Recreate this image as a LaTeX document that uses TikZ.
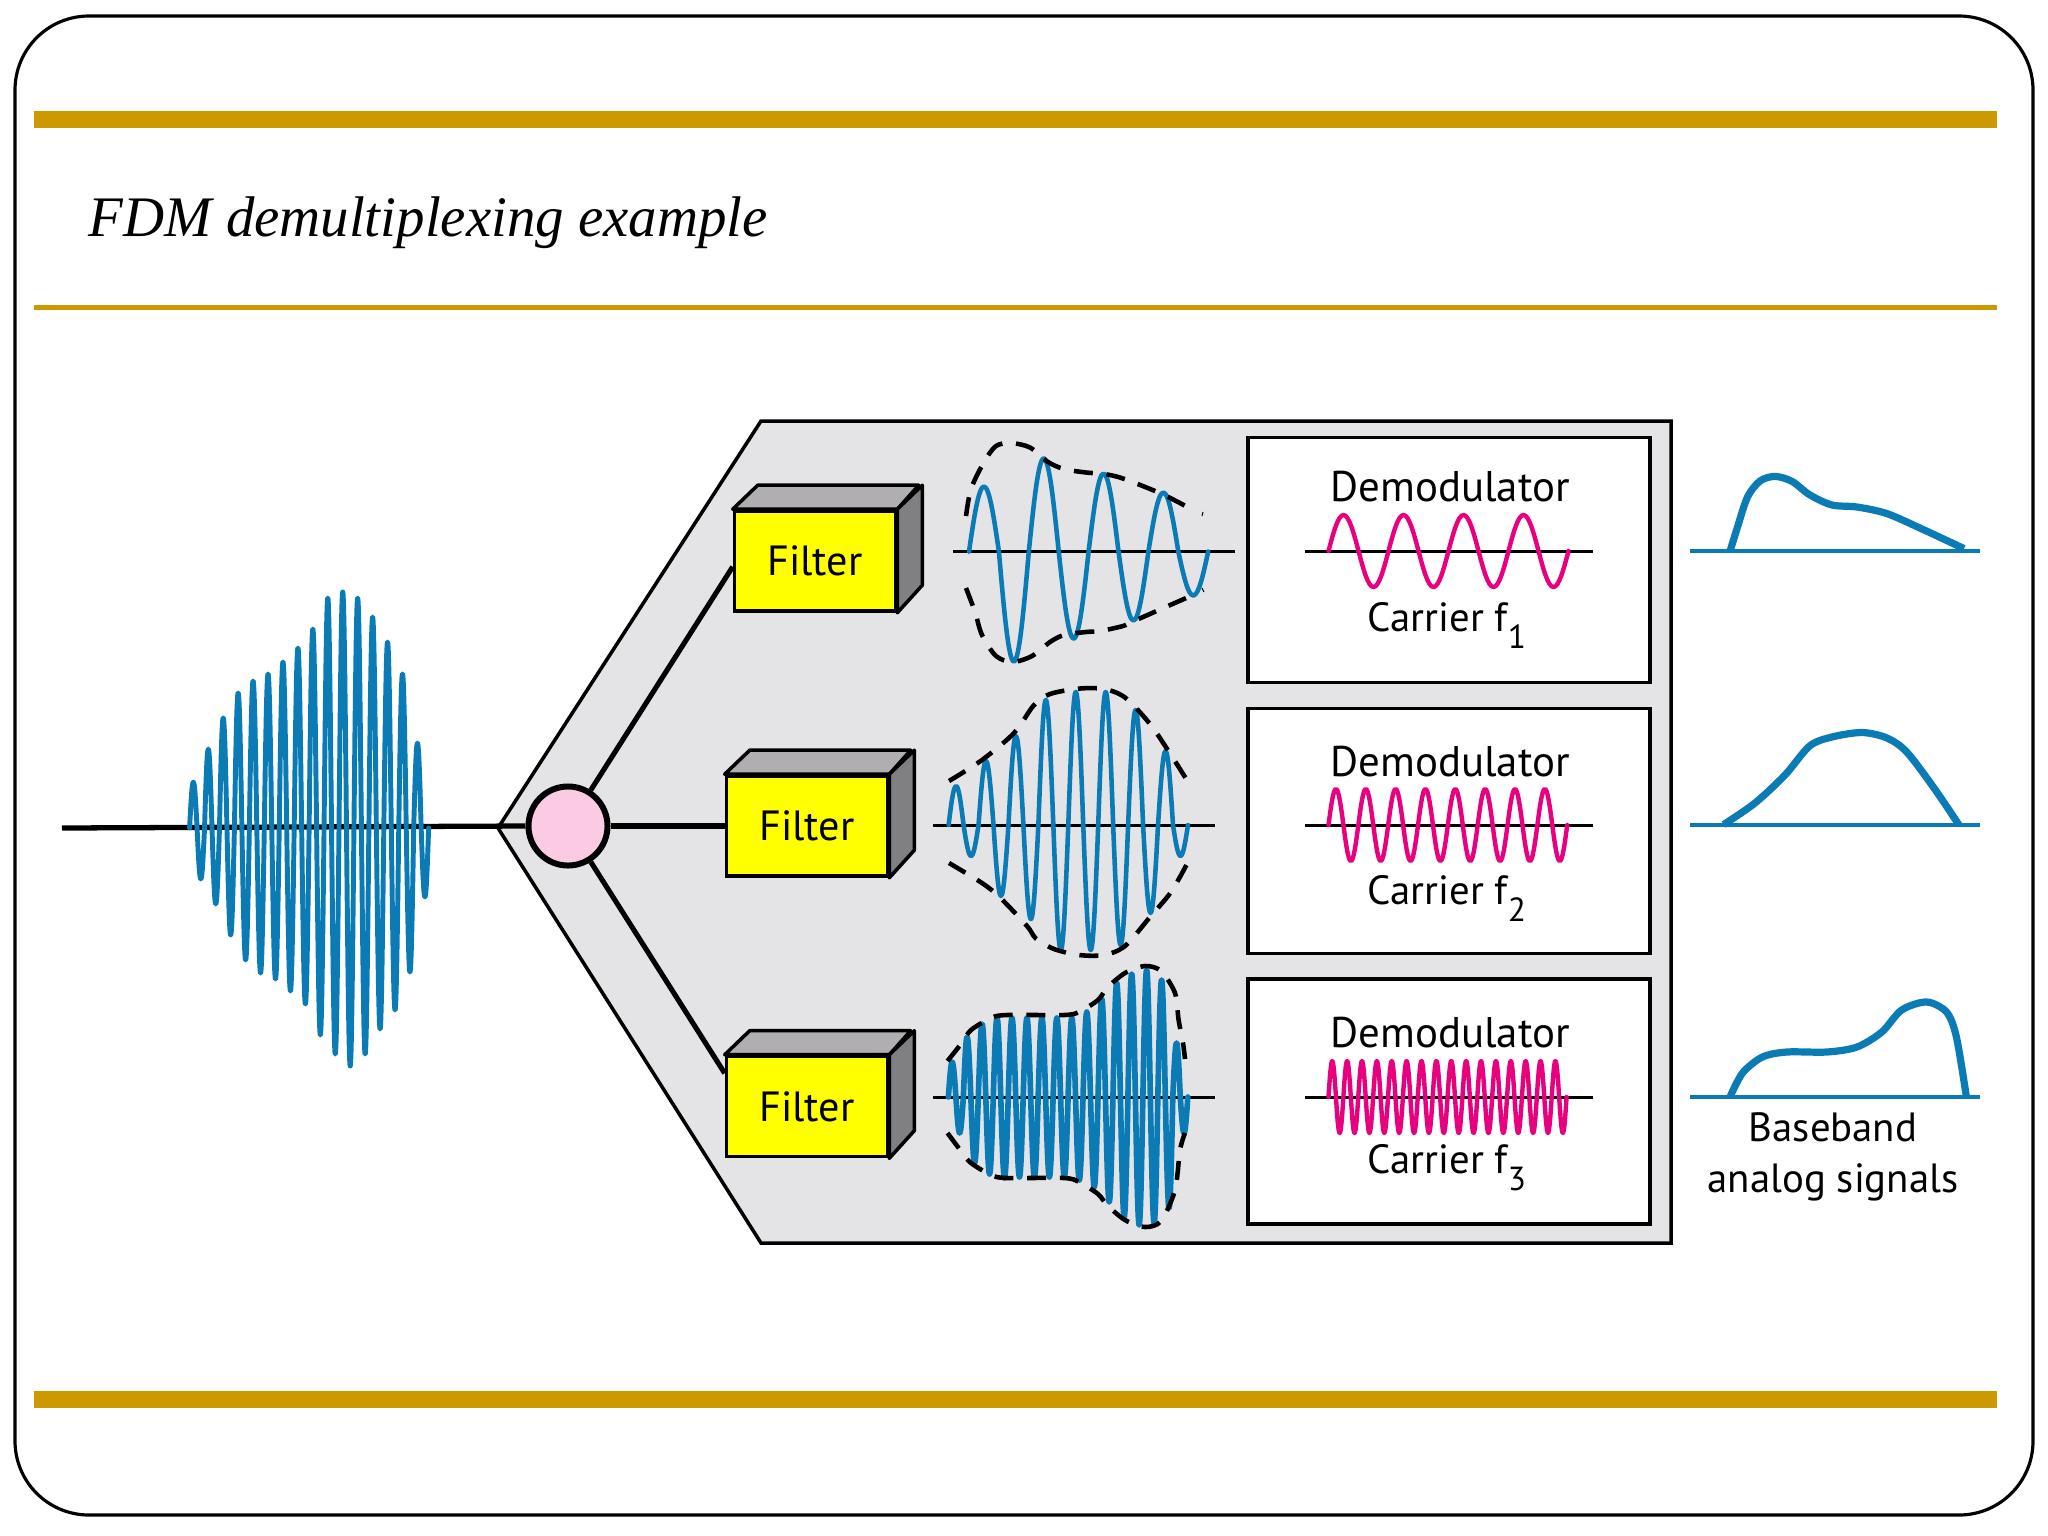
\documentclass[tikz,border=0pt]{standalone}
\usepackage{fontspec}
\setmainfont{PT Sans}
\newfontfamily\titlefont[FakeStretch=0.992]{Liberation Serif}
\usetikzlibrary{positioning}

\definecolor{bargold}{HTML}{CC9900}
\definecolor{housinggrey}{HTML}{E4E4E6}
\definecolor{hubpink}{HTML}{FBCAE3}
\definecolor{wavecyan}{HTML}{0A7BB5}
\definecolor{carrierpink}{HTML}{E9007F}
\definecolor{filteryellow}{HTML}{FFFF00}
\definecolor{topgrey}{HTML}{B0AEB0}
\definecolor{sidegrey}{HTML}{808082}

\tikzset{
    goldbar/.style={fill=bargold,draw=none},
    housing/.style={fill=housinggrey,draw=black,line width=1pt,line join=miter},
    hub/.style={circle,fill=hubpink,draw=black,line width=1.7pt,minimum size=0.79cm,inner sep=0pt},
    feed/.style={line width=1.45pt},
    filterbox/.style={rectangle,fill=filteryellow,draw=black,line width=1pt,minimum width=1.61cm,minimum height=1cm,inner sep=0pt,font=\fontsize{12}{14}\selectfont},
    topface/.style={fill=topgrey,draw=black,line width=1pt,line join=round},
    sideface/.style={fill=sidegrey,draw=black,line width=1pt,line join=round},
    demodbox/.style={rectangle,fill=white,draw=black,line width=1pt,minimum width=4.02cm,minimum height=2.45cm},
    axis/.style={line width=0.85pt},
    wave/.style={draw=wavecyan,line width=1.3pt,line cap=round,line join=round},
    carrier/.style={draw=carrierpink,line width=1.25pt,line cap=round,line join=round},
    envelope/.style={line width=1.3pt,dash pattern=on 5.4pt off 3.9pt},
    baseband/.style={draw=wavecyan,line width=2.05pt,line cap=butt},
    baseaxis/.style={draw=wavecyan,line width=1pt},
    caption/.style={anchor=base,inner sep=0pt,font=\fontsize{11.6}{14.5}\selectfont},
}

% x0, y0, quarter period, peak heights
\newcommand{\wave}[5][]{
    \draw[wave,#1] (#2,#3) \foreach \a [count=\i] in {#5} {
        sin ({#2+(2*\i-1)*#4},{#3+(iseven(\i)?\a:-\a)}) cos ({#2+2*\i*#4},#3)
    };
}
\newcommand{\sub}[1]{\raisebox{-0.42em}{\fontsize{9.5}{10}\selectfont #1}}

\begin{document}
\begin{tikzpicture}[x=0.01cm,y=-0.01cm]
\useasboundingbox (0,0) rectangle (2048,1536);

% Slide frame
\draw[line width=0.9pt,rounded corners=0.74cm] (15,16) rectangle (2033,1515);
\fill[goldbar] (34,111) rectangle (1997,128);
\fill[goldbar] (34,305) rectangle (1997,310);
\fill[goldbar] (34,1391) rectangle (1997,1408);
\node[anchor=base west,inner sep=0pt,font=\titlefont\itshape\fontsize{16.3}{20}\selectfont] (title) at (88,236) {FDM demultiplexing example};

% Housing of the demultiplexer
\draw[housing] (498,828) -- (761,421) -- (1671,421) -- (1671,1243) -- (761,1243) -- cycle;

% Filters
\node[hub] (hub) at (568,826) {};
\node[filterbox] (filter1) at (815,561) {Filter};
\node[filterbox] (filter2) at (807,826) {Filter};
\node[filterbox] (filter3) at (807,1106.5) {Filter};
\foreach \f in {filter1,filter2,filter3} {
    \filldraw[topface] (\f.north west) -- ++(25,-24) -- ++(161,0) -- (\f.north east) -- cycle;
    \filldraw[sideface] (\f.north east) -- ++(25,-24) -- ++(0,100) -- (\f.south east) -- cycle;
}

% Input and branches
\coordinate (input) at (62,828);
\draw[line width=1.5pt] (input) -- (hub.west);
\draw[feed] (hub) -- (filter1.184);
\draw[feed] (hub) -- (filter2.west);
\draw[feed] (hub) -- (filter3.158);

% Multiplexed signal
\wave[line width=1.4pt]{189.6}{828}{3.735}{46,51,79,76,110,107,135,132,147,145,154,151,166,163,180,176,199,207,230,226,236,238,230,226,211,201,186,182,154,144,85,69}

% Filtered signals
\draw[axis] (953,551.5) -- (1235,551.5);
\draw[axis] (933,825) -- (1215,825);
\draw[axis] (933,1097) -- (1215,1097);
\wave{969}{551.5}{14.95}{65,110,93,87,78,69,59,44}
\wave{948.6}{825}{7.48}{39,31,64,71,89,94,125,125,133,125,133,120,115,88,74,31}
\wave[line width=1.6pt]{948.4}{1097}{3.74}{35,36,60,66,73,77,79,81,79,80,79,80,79,80,79,80,79,83,85,90,98,105,114,120,123,128,127,126,117,111,54,36}

\draw[envelope] plot[smooth] coordinates {(966,516) (971,489) (984,462) (996,446) (1011,443) (1030,447.5) (1048,462) (1064,469) (1086,472.5) (1104,474) (1123,478.5) (1162,494) (1191,509)};
\draw[envelope] plot[smooth] coordinates {(966,588) (975,612) (982,635) (996,656) (1012.5,662) (1032,656) (1050,642) (1064,635) (1086,632) (1100,631) (1123,626) (1134,621) (1168,606) (1193,595)};
\draw[line width=0.3pt] (1203,512) -- (1202,516) (1202,588) -- (1204,592);
\draw[envelope] plot[smooth] coordinates {(949,781) (982,760) (1014,733) (1034,705) (1050,694) (1079,688.6) (1104,689) (1125,697.5) (1150,724) (1171,755) (1187.5,781)};
\draw[envelope] plot[smooth] coordinates {(949,863) (982,883) (1000,897.5) (1027,926) (1036,938.6) (1054,949) (1079,955) (1104,955) (1125,946) (1150,917) (1171,892) (1187.5,863)};
\draw[envelope] plot[smooth] coordinates {(947.5,1061) (962.5,1042) (971,1030) (991,1018) (1007,1015) (1064,1015) (1079,1012) (1098,1000) (1107,988) (1125,973) (1145,966) (1161,971) (1175,993) (1178.6,1020) (1183,1043) (1185,1059)};
\draw[envelope] plot[smooth] coordinates {(947.5,1133) (962.5,1153) (971,1163) (991,1175) (1007,1178) (1064,1178) (1079,1182) (1098,1194) (1107,1205) (1125,1220) (1145,1227) (1161,1221) (1175,1190) (1180,1150) (1185,1133)};

% Demodulators
\foreach \n/\by/\ty/\cy/\ly/\q/\k in {1/560/501/631/551/15/8,2/831/776/904/825/7.46/16,3/1101.5/1047/1173/1097/3.72/32} {
    \node[demodbox] (demod\n) at (1449,\by) {};
    \node[caption,font=\fontsize{12.2}{14.5}\selectfont] (demodtext\n) at (1450,\ty) {Demodulator};
    \node[caption] (carriertext\n) at (1447,\cy) {Carrier f\sub{\n}};
    \draw[axis] (1305,\ly) -- (1593,\ly);
    \draw[carrier] (1328.5,\ly) \foreach \i in {1,...,\k} {
        sin ({1328.5+(2*\i-1)*\q},{\ly+(iseven(\i)?36:-36)}) cos ({1328.5+2*\i*\q},\ly)
    };
}

% Baseband signals
\foreach \ly in {551,825,1097}
    \draw[baseaxis] (1690,\ly) -- (1980,\ly);
\draw[baseband] plot[smooth] coordinates {(1730,551.4) (1737.5,527) (1747.5,497) (1760,481) (1775,476.4) (1792,481.4) (1810,495) (1832,505) (1857,507) (1887,513.6) (1922,529) (1964,548.6)};
\draw[baseband] plot[smooth] coordinates {(1723.6,824.6) (1755,803) (1785,775) (1809.6,746) (1832,737) (1862,732.5) (1887,738) (1906.7,752) (1934,788) (1959,825)};
\draw[baseband] plot[smooth] coordinates {(1730,1097) (1742.5,1073) (1762.4,1057) (1787,1052) (1827,1052) (1857,1047) (1881.8,1032) (1901.7,1010) (1926.6,1002) (1946.5,1012) (1956.4,1037) (1966.4,1097)};
\node[caption,align=center] (basebandtext) at (1833,1192) {Baseband\\analog signals};

\end{tikzpicture}
\end{document}
